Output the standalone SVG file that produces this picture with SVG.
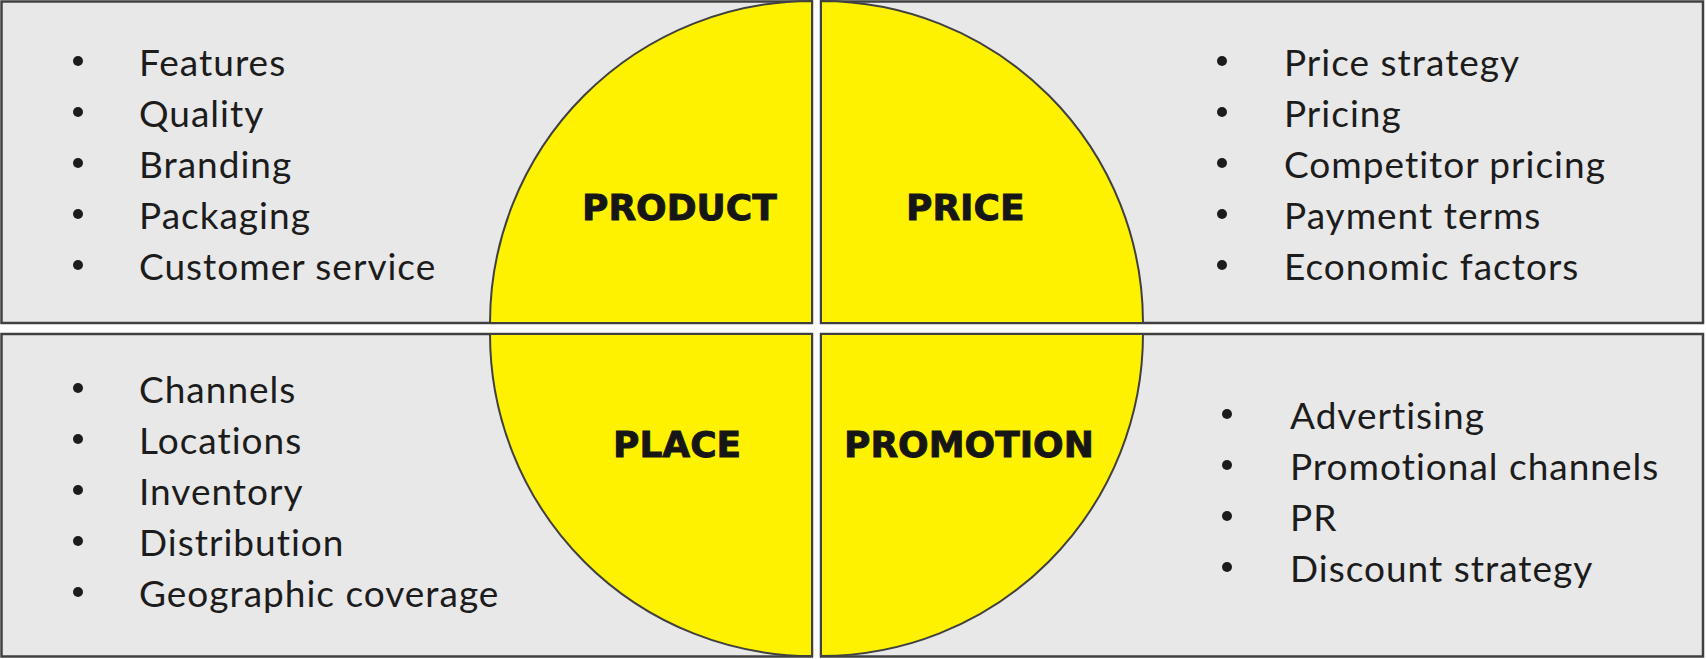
<svg xmlns="http://www.w3.org/2000/svg" width="1706" height="659" viewBox="0 0 1706 659">
<style>
.box{fill:#e8e8e8;stroke:#404040;stroke-width:2.5}
.q{fill:#fff200;stroke:#404040;stroke-width:2}
.item{font-family:Lato,"Liberation Sans",sans-serif;font-size:37px;letter-spacing:1px;fill:#1c1c1c}
.lbl{font-family:"DejaVu Sans",sans-serif;font-weight:bold;font-size:36px;fill:#161616;stroke:#161616;stroke-width:0.9}
.dot{fill:#1c1c1c}
</style>
<rect width="1706" height="659" fill="#ffffff"/>
<g id="connectors"/>
<g id="product">
<rect class="box" x="1.5" y="1.5" width="810.5" height="321.5"/>
<path class="q" d="M812,323 L490,323 A322,322 0 0 1 812,1 Z"/>
<text class="lbl" x="582" y="220">PRODUCT</text>
<circle class="dot" cx="78" cy="61" r="5"/>
<circle class="dot" cx="78" cy="112" r="5"/>
<circle class="dot" cx="78" cy="163" r="5"/>
<circle class="dot" cx="78" cy="214" r="5"/>
<circle class="dot" cx="78" cy="265" r="5"/>
<text class="item" x="139" y="76">Features</text>
<text class="item" x="139" y="127">Quality</text>
<text class="item" x="139" y="178">Branding</text>
<text class="item" x="139" y="229">Packaging</text>
<text class="item" x="139" y="280">Customer service</text>
</g>
<g id="price">
<rect class="box" x="821" y="1.5" width="882" height="321.5"/>
<path class="q" d="M821,323 L821,1 A322,322 0 0 1 1143,323 Z"/>
<text class="lbl" x="906" y="220">PRICE</text>
<circle class="dot" cx="1222" cy="61" r="5"/>
<circle class="dot" cx="1222" cy="112" r="5"/>
<circle class="dot" cx="1222" cy="163" r="5"/>
<circle class="dot" cx="1222" cy="214" r="5"/>
<circle class="dot" cx="1222" cy="265" r="5"/>
<text class="item" x="1284" y="76">Price strategy</text>
<text class="item" x="1284" y="127">Pricing</text>
<text class="item" x="1284" y="178">Competitor pricing</text>
<text class="item" x="1284" y="229">Payment terms</text>
<text class="item" x="1284" y="280">Economic factors</text>
</g>
<g id="place">
<rect class="box" x="1.5" y="334" width="810.5" height="322.5"/>
<path class="q" d="M812,334 L812,656 A322,322 0 0 1 490,334 Z"/>
<text class="lbl" x="613" y="457">PLACE</text>
<circle class="dot" cx="78" cy="388" r="5"/>
<circle class="dot" cx="78" cy="439" r="5"/>
<circle class="dot" cx="78" cy="490" r="5"/>
<circle class="dot" cx="78" cy="541" r="5"/>
<circle class="dot" cx="78" cy="592" r="5"/>
<text class="item" x="139" y="403">Channels</text>
<text class="item" x="139" y="454">Locations</text>
<text class="item" x="139" y="505">Inventory</text>
<text class="item" x="139" y="556">Distribution</text>
<text class="item" x="139" y="607">Geographic coverage</text>
</g>
<g id="promotion">
<rect class="box" x="821" y="334" width="882" height="322.5"/>
<path class="q" d="M821,334 L1143,334 A322,322 0 0 1 821,656 Z"/>
<text class="lbl" x="844" y="457">PROMOTION</text>
<circle class="dot" cx="1227" cy="414" r="5"/>
<circle class="dot" cx="1227" cy="465" r="5"/>
<circle class="dot" cx="1227" cy="516" r="5"/>
<circle class="dot" cx="1227" cy="567" r="5"/>
<text class="item" x="1290" y="429">Advertising</text>
<text class="item" x="1290" y="480">Promotional channels</text>
<text class="item" x="1290" y="531">PR</text>
<text class="item" x="1290" y="582">Discount strategy</text>
</g>
</svg>
